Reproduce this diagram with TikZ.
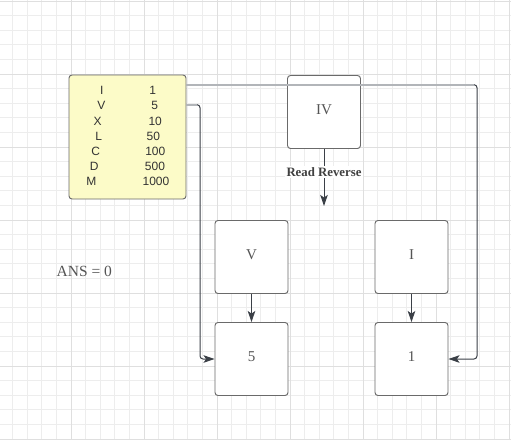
\documentclass[tikz,border=0pt]{standalone}
\usepackage{fontspec}
\setmainfont{Liberation Serif}
\newfontfamily\arialf{Liberation Sans}
\usetikzlibrary{arrows.meta}
\definecolor{gridminor}{HTML}{EDEDED}
\definecolor{gridmajor}{HTML}{DFDFDF}
\definecolor{linec}{HTML}{3B4047}
\definecolor{lightline}{HTML}{B2B5B9}
\definecolor{boxborder}{HTML}{6A6A6A}
\definecolor{boxtext}{HTML}{555555}
\definecolor{yel}{HTML}{FCFBC8}
\begin{document}
\begin{tikzpicture}[x=1pt,y=-1pt,
  box/.style={draw=boxborder, line width=0.95pt, rounded corners=3pt, fill=white,
    minimum width=73pt, minimum height=73pt, inner sep=0pt, text depth=4pt,
    font=\fontsize{15}{18}\selectfont, text=boxtext},
  conn/.style={draw=linec, line width=1pt, -{Stealth[length=11pt,width=7.5pt,inset=2.5pt]}},
  tbltext/.style={font=\arialf\fontsize{12}{14}\selectfont, text=black!80, anchor=base, inner sep=0pt},
  rlabel/.style={fill=white, inner sep=1.5pt, font=\bfseries\fontsize{12.8}{15}\selectfont, text=black!75},
  lightseg/.style={draw=lightline, line width=1.6pt}]

\useasboundingbox (0,0) rectangle (511,440);
\fill[white] (0,0) rectangle (511,440);
% grid
\foreach \k in {1,...,35} {
  \pgfmathsetmacro\gx{-2+14.6*\k}
  \draw[gridminor, line width=0.8pt] (\gx,0) -- (\gx,440);
}
\foreach \k in {0,...,30} {
  \pgfmathsetmacro\gy{1+14.6*\k}
  \draw[gridminor, line width=0.8pt] (0,\gy) -- (511,\gy);
}
\foreach \gx in {71,144,217,290,363,436,509}
  \draw[gridmajor, line width=0.8pt] (\gx,0) -- (\gx,440);
\foreach \gy in {1,74,147,220,293,366,439}
  \draw[gridmajor, line width=0.8pt] (0,\gy) -- (511,\gy);

% table
\node[draw=boxborder, fill=yel, rounded corners=3pt, line width=0.95pt,
  minimum width=117pt, minimum height=124pt, inner sep=0pt] (tbl) at (127.5,137) {};
\node[tbltext] (rI) at (101.7,94.8) {I};
\node[tbltext] (rV) at (101.3,109.9) {V};
\node[tbltext] (rX) at (97.7,125.0) {X};
\node[tbltext] (rL) at (98.7,140.1) {L};
\node[tbltext] (rC) at (95.7,155.2) {C};
\node[tbltext] (rD) at (94.3,170.3) {D};
\node[tbltext] (rM) at (91.3,185.4) {M};
\node[tbltext] (n1) at (152.7,94.8) {1};
\node[tbltext] (n5) at (154.7,109.9) {5};
\node[tbltext] (n10) at (155.2,125.0) {10};
\node[tbltext] (n50) at (153.3,140.1) {50};
\node[tbltext] (n100) at (155.3,155.2) {100};
\node[tbltext] (n500) at (155.0,170.3) {500};
\node[tbltext] (n1000) at (156.0,185.4) {1000};

% boxes
\node[box] (iv) at (324,112) {IV};
\node[box] (v) at (251.5,257) {V};
\node[box] (i) at (411.5,257) {I};
\node[box] (five) at (251.5,359) {5};
\node[box] (one) at (411.5,359) {1};

% ANS
\node[font=\fontsize{15.5}{18}\selectfont, text=boxtext] (ans) at (84.3,271) {ANS = 0};

% connectors
\coordinate (y1) at (0,84.7);
\coordinate (y2) at (0,104.7);
\coordinate (rrend) at (324,206);

\draw[conn, rounded corners=3pt] (tbl.east |- y1) -- (477,84.7) -- (477,359) -- (one.east);
\draw[lightseg] (tbl.east |- y1) -- (474,84.7);
\draw[conn, rounded corners=3pt] (tbl.east |- y2) -- (200,104.7) -- (200,359) -- (five.west);
\draw[lightseg] (tbl.east |- y2) -- (197,104.7);

\draw[conn] (iv.south) -- node[rlabel, pos=0.4] (rr) {Read Reverse} (rrend);
\draw[conn] (v) -- (five);
\draw[conn] (i) -- (one);
\end{tikzpicture}
\end{document}
